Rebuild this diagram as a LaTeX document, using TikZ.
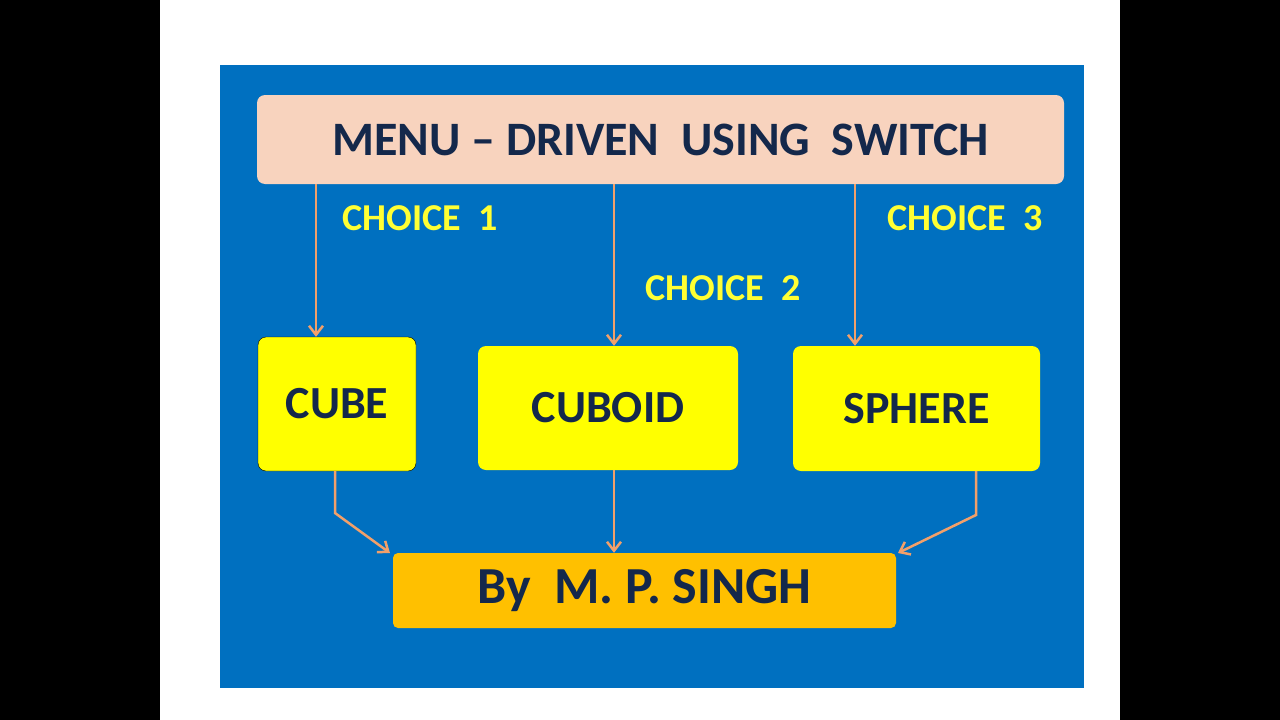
\documentclass[tikz,border=0pt]{standalone}
\usepackage{fontspec}
\setmainfont{Carlito}
\usetikzlibrary{arrows.meta}
\definecolor{bgblue}{HTML}{0070C0}
\definecolor{peach}{HTML}{F8D3BE}
\definecolor{navy}{HTML}{14284B}
\definecolor{boxyellow}{HTML}{FFFF00}
\definecolor{boxorange}{HTML}{FFC000}
\definecolor{arroworange}{HTML}{F2A06A}
\definecolor{choiceyellow}{HTML}{FFFF33}
\begin{document}
\begin{tikzpicture}[x=1pt,y=-1pt]
\tikzstyle{shape_box} = [rectangle, rounded corners=8pt, text=navy, font=\bfseries\fontsize{46}{50}\selectfont, inner sep=0pt]
\tikzstyle{choice}    = [text=choiceyellow, font=\bfseries\fontsize{38}{42}\selectfont]
\tikzstyle{arrow}     = [arroworange, line width=2.5pt, -{Straight Barb[length=9pt,width=14pt]}]

\fill[black] (0,0) rectangle (1280,720);
\fill[white] (160,0) rectangle (1120,720);
\fill[bgblue] (220,65) rectangle (1084,688);

\node (menu)   [shape_box, fill=peach, minimum width=807pt, minimum height=89pt, font=\bfseries\fontsize{48}{52}\selectfont] at (660.5,139.5) {MENU -- DRIVEN\ \ USING\ \ SWITCH};
\node (cube)   [shape_box, fill=boxyellow, draw=black, minimum width=158pt, minimum height=134pt] at (337,404) {CUBE};
\node (cuboid) [shape_box, fill=boxyellow, minimum width=260pt, minimum height=124pt] at (608,408) {CUBOID};
\node (sphere) [shape_box, fill=boxyellow, minimum width=247pt, minimum height=125pt] at (916.5,408.5) {SPHERE};
\node (author) [shape_box, fill=boxorange, rounded corners=5pt, minimum width=503pt, minimum height=75pt, font=\bfseries\fontsize{52}{56}\selectfont] at (644.5,590.5) {By\ \ M. P. SINGH};

\node (c1) [choice] at (420,218) {CHOICE\ \ 1};
\node (c2) [choice] at (723,288) {CHOICE\ \ 2};
\node (c3) [choice] at (965,218) {CHOICE\ \ 3};

\coordinate (bend1) at (335,513);
\coordinate (bend3) at (976,515);

\draw [arrow] (menu.south -| 316,0) -- (cube.north -| 316,0);
\draw [arrow] (menu.south -| 614,0) -- (cuboid.north -| 614,0);
\draw [arrow] (menu.south -| 855,0) -- (sphere.north -| 855,0);
\draw [arrow] (cube.south -| bend1) -- (bend1) -- (390,553);
\draw [arrow] (cuboid.south -| 614,0) -- (author.north -| 614,0);
\draw [arrow] (sphere.south -| bend3) -- (bend3) -- (898,553);
\end{tikzpicture}
\end{document}
